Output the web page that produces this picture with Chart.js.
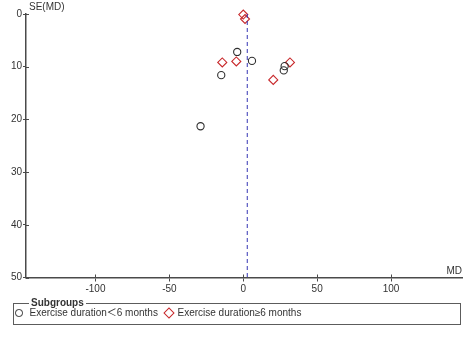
<!DOCTYPE html>
<html>
<head>
<meta charset="utf-8">
<script src="https://cdn.jsdelivr.net/npm/chart.js@4"></script>
<style>
  body { margin: 0; background: #fff; font-family: "Liberation Sans", Arial, "Noto Sans CJK SC", sans-serif; }
  #wrap { position: relative; width: 474px; height: 338px; }
  #legendBox { position: absolute; left: 13px; top: 303px; width: 448px; height: 22px; box-sizing: border-box; border: 1.5px solid #5c5c5c; }
  #legendBox .title { position: absolute; left: 15px; top: -7px; padding: 0 2px; background: #fff; font-weight: bold; font-size: 10px; line-height: 12px; color: #333; }
  .item { position: absolute; top: 2.5px; font-size: 10px; line-height: 12px; color: #333; white-space: nowrap; }
  .icon { position: absolute; box-sizing: border-box; }
</style>
</head>
<body>
<div id="wrap">
  <canvas id="funnel" width="474" height="338"></canvas>
  <div id="legendBox"><span class="title">Subgroups</span></div>
</div>
<script>
// funnel plot data: mean difference vs standard error
const shortMd = [-4.1, 5.9, -14.9, 27.4, 28.0, -28.9];
const shortSe = [7.2, 8.9, 11.6, 10.7, 9.9, 21.3];
const longMd = [0.0, 1.2, -14.2, -4.7, 20.3, 31.6];
const longSe = [0.1, 0.95, 9.2, 9.0, 12.5, 9.2];
const pooledMd = 2.7;

const seriesNames = ["Exercise duration＜6 months", "Exercise duration≥6 months"];
const xTicks = [-100, -50, 0, 50, 100];
const yTicks = [0, 10, 20, 30, 40, 50];
const xTitle = "MD";
const yTitle = "SE(MD)";

const font = '"Liberation Sans", Arial, sans-serif';
const axisColor = "#4a4a4a";

const axisText = {
  id: "axisText",
  afterDraw(chart) {
    const { ctx, chartArea, scales } = chart;
    ctx.save();
    ctx.fillStyle = "#333";
    ctx.font = "10px " + font;
    ctx.textBaseline = "middle";
    ctx.textAlign = "left";
    ctx.fillText(yTitle, chartArea.left + 3, chartArea.top - 6.5);
    ctx.textAlign = "right";
    ctx.fillText(xTitle, chartArea.right, chartArea.bottom - 6);
    // small tick stubs inside the plot
    ctx.strokeStyle = axisColor;
    ctx.lineWidth = 1;
    ctx.beginPath();
    yTicks.forEach((v) => {
      const y = Math.round(scales.y.getPixelForValue(v)) + 0.5;
      ctx.moveTo(chartArea.left, y);
      ctx.lineTo(chartArea.left + 3, y);
    });
    xTicks.forEach((v) => {
      const x = Math.round(scales.x.getPixelForValue(v)) + 0.5;
      ctx.moveTo(x, chartArea.bottom);
      ctx.lineTo(x, chartArea.bottom - 3);
    });
    ctx.stroke();
    ctx.restore();
  },
};

new Chart(document.getElementById("funnel"), {
  type: "scatter",
  data: {
    datasets: [
      {
        type: "line",
        data: [{ x: pooledMd, y: 0 }, { x: pooledMd, y: 50 }],
        borderColor: "#3434b4",
        borderWidth: 1,
        borderDash: [4, 3],
        pointRadius: 0,
      },
      {
        label: seriesNames[0],
        data: shortMd.map((m, i) => ({ x: m, y: shortSe[i] })),
        pointStyle: "circle",
        pointRadius: 3.6,
        borderColor: "#2e2e2e",
        borderWidth: 1.1,
        backgroundColor: "rgba(0,0,0,0)",
      },
      {
        label: seriesNames[1],
        data: longMd.map((m, i) => ({ x: m, y: longSe[i] })),
        pointStyle: "rectRot",
        pointRadius: 4.5,
        borderColor: "#c8282b",
        borderWidth: 1.1,
        backgroundColor: "rgba(0,0,0,0)",
      },
    ],
  },
  options: {
    responsive: false,
    animation: false,
    devicePixelRatio: 1,
    clip: false,
    layout: { padding: { top: 14, right: 12, left: 0, bottom: 0 } },
    plugins: { legend: { display: false }, tooltip: { enabled: false } },
    scales: {
      x: {
        type: "linear",
        min: -147,
        max: 148,
        afterBuildTicks: (s) => { s.ticks = xTicks.map((v) => ({ value: v })); },
        afterFit: (s) => { s.height = 60.5; },
        grid: { drawOnChartArea: false, tickLength: 4, color: axisColor, lineWidth: 1 },
        border: { color: axisColor, width: 1.5 },
        ticks: { color: "#333", font: { family: font, size: 10 }, padding: 1.5, maxRotation: 0 },
      },
      y: {
        type: "linear",
        reverse: true,
        min: 0,
        max: 50,
        afterBuildTicks: (s) => { s.ticks = yTicks.map((v) => ({ value: v })); },
        afterFit: (s) => { s.width = 26; },
        grid: { drawOnChartArea: false, tickLength: 3, color: axisColor, lineWidth: 1 },
        border: { color: axisColor, width: 1.5 },
        ticks: { color: "#333", font: { family: font, size: 10 }, padding: 1 },
      },
    },
  },
  plugins: [axisText],
});

// legend below the plot
const box = document.getElementById("legendBox");
const iconStyles = [
  "left:1px;top:5px;width:7.5px;height:7.5px;border:1.2px solid #2e2e2e;border-radius:50%;",
  "left:151px;top:4.5px;width:8px;height:8px;border:1.2px solid #c8282b;transform:rotate(45deg);",
];
const textLeft = [15.5, 163.5];
seriesNames.forEach((name, i) => {
  const icon = document.createElement("span");
  icon.className = "icon";
  icon.style.cssText = iconStyles[i];
  box.appendChild(icon);
  const t = document.createElement("span");
  t.className = "item";
  t.style.left = textLeft[i] + "px";
  t.textContent = name;
  box.appendChild(t);
});
</script>
</body>
</html>
